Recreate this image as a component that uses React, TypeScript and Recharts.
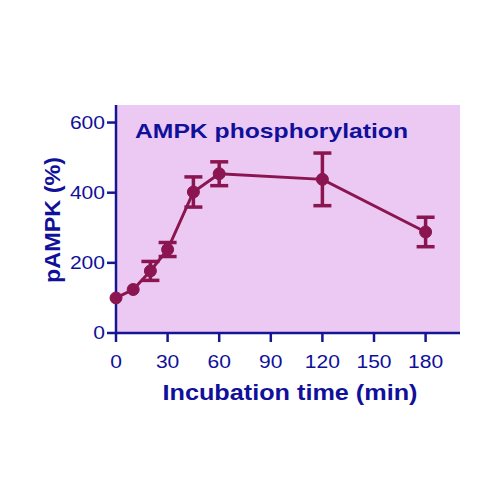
import React from 'react';
import { ComposedChart, Line, XAxis, YAxis, CartesianGrid, ErrorBar, Customized } from 'recharts';

const times = [0, 10, 20, 30, 45, 60, 120, 180];
const values = [100, 124, 177, 238, 402, 454, 438, 288];
const errors = [0, 0, 27, 20, 43, 34, 75, 42];
const xTicks = [0, 30, 60, 90, 120, 150, 180];
const yTicks = [0, 200, 400, 600];

const data = times.map((t, i) => ({ t, v: values[i], e: errors[i] }));

const NAVY = '#161694';
const TEXT = '#10109a';
const LINE = '#8a1550';
const BG = '#ecc9f2';
const FONT = 'Liberation Sans, Arial, sans-serif';
const DIGIT_W = 11.7;

const XTick = (p: any) => {
  const s = String(p.payload.value);
  return (
    <text
      x={p.x}
      y={p.y + 26}
      textAnchor="middle"
      fill={TEXT}
      fontSize={18}
      fontFamily={FONT}
      textLength={s.length * DIGIT_W}
      lengthAdjust="spacingAndGlyphs"
    >
      {s}
    </text>
  );
};

const YTick = (p: any) => {
  const s = String(p.payload.value);
  return (
    <text
      x={p.x - 2}
      y={p.y}
      dy="0.355em"
      textAnchor="end"
      fill={TEXT}
      fontSize={18}
      fontFamily={FONT}
      textLength={s.length * DIGIT_W}
      lengthAdjust="spacingAndGlyphs"
    >
      {s}
    </text>
  );
};

export default function App() {
  return (
    <div style={{ width: 500, height: 480 }}>
      <ComposedChart
        width={500}
        height={480}
        data={data}
        margin={{ top: 97, right: 48, bottom: 125, left: 58 }}
      >
        <CartesianGrid horizontal={false} vertical={false} fill={BG} />
        <XAxis
          dataKey="t"
          type="number"
          domain={[0, 200]}
          ticks={xTicks}
          height={30}
          stroke={NAVY}
          strokeWidth={2.5}
          tickSize={9}
          tickMargin={0}
          tick={<XTick />}
          label={{
            content: (p: any) => (
              <text
                x={p.viewBox.x + p.viewBox.width / 2 + 2}
                y={p.viewBox.y + 67}
                textAnchor="middle"
                fill={TEXT}
                fontSize={22}
                fontWeight="bold"
                fontFamily={FONT}
                textLength={255}
                lengthAdjust="spacingAndGlyphs"
              >
                Incubation time (min)
              </text>
            ),
          }}
        />
        <YAxis
          type="number"
          domain={[0, 650]}
          ticks={yTicks}
          width={50}
          stroke={NAVY}
          strokeWidth={2.5}
          tickSize={9}
          tickMargin={0}
          tick={<YTick />}
          label={{
            content: () => (
              <text
                x={44}
                y={212}
                transform="rotate(-90, 44, 212)"
                textAnchor="middle"
                dominantBaseline="central"
                fill={TEXT}
                fontSize={22}
                fontWeight="bold"
                fontFamily={FONT}
                textLength={126}
                lengthAdjust="spacingAndGlyphs"
              >
                pAMPK (%)
              </text>
            ),
          }}
        />
        <Line
          dataKey="v"
          stroke={LINE}
          strokeWidth={3}
          dot={{ r: 6, fill: LINE, stroke: LINE, strokeWidth: 1 }}
          isAnimationActive={false}
        >
          <ErrorBar dataKey="e" width={9} stroke={LINE} strokeWidth={3.5} direction="y" />
        </Line>
        <Customized
          component={() => (
            <text
              x={127}
              y={130}
              fill={TEXT}
              fontSize={21}
              fontWeight="bold"
              fontFamily={FONT}
              textLength={273}
              lengthAdjust="spacingAndGlyphs"
            >
              AMPK phosphorylation
            </text>
          )}
        />
      </ComposedChart>
    </div>
  );
}
